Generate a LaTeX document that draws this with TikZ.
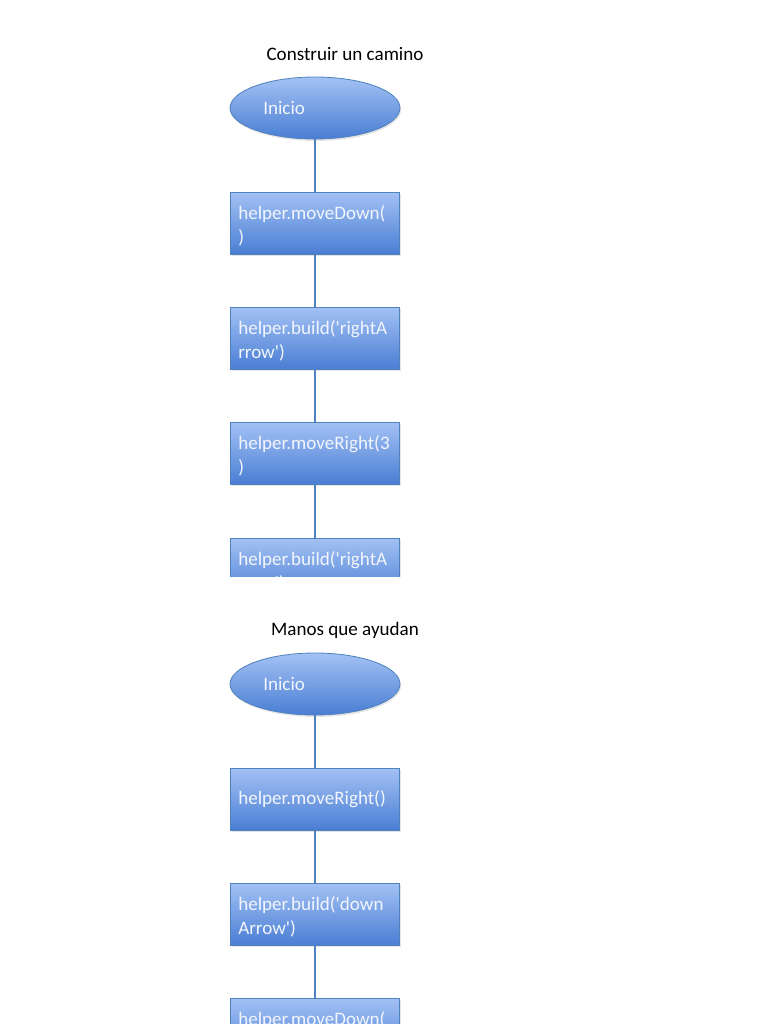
\documentclass[tikz,border=0pt]{standalone}
\usepackage{fontspec}
\setmainfont{Carlito}
\usetikzlibrary{shapes.geometric,shadows}
\definecolor{topblue}{HTML}{A3C1F4}
\definecolor{botblue}{HTML}{4A7ED4}
\definecolor{edgeblue}{HTML}{4F81BD}
\definecolor{txt}{HTML}{F2F6FC}
\newcommand{\sq}{\textquotesingle}
\tikzset{
  x=0.75pt, y=-0.75pt,
  softshadow/.style={drop shadow={opacity=0.2, shadow xshift=0.8pt, shadow yshift=-1.5pt}},
  flowbox/.style={rectangle, draw=edgeblue, line width=0.6pt, top color=topblue, bottom color=botblue,
    minimum width=126.75pt, minimum height=46.5pt, inner sep=0pt, softshadow},
  startnode/.style={ellipse, draw=edgeblue, line width=0.6pt, top color=topblue, bottom color=botblue,
    minimum width=127.5pt, minimum height=46.5pt, inner sep=0pt, softshadow},
  boxtext/.style={anchor=north west, text=txt, font=\fontsize{14.3}{18}\selectfont, align=left, inner sep=0pt},
  titletext/.style={font=\fontsize{14.3}{17}\selectfont, text=black},
  link/.style={draw=edgeblue, line width=1.5pt},
}
\begin{document}
\begin{tikzpicture}
\useasboundingbox (0,0) rectangle (768,1024);
\fill[white] (0,0) rectangle (768,1024);
% ---------- first diagram ----------
\node[titletext] (t1) at (345,54.5) {Construir un camino};
\begin{scope}
\clip (0,0) rectangle (768,576);
\node[startnode] (s1) at (315,108) {};
\node[flowbox] (a1) at (315,223) {};
\node[flowbox] (a2) at (315,338) {};
\node[flowbox] (a3) at (315,453) {};
\node[flowbox] (a4) at (315,569) {};
\draw[link] (s1.south) -- (a1.north);
\draw[link] (a1.south) -- (a2.north);
\draw[link] (a2.south) -- (a3.north);
\draw[link] (a3.south) -- (a4.north);
\node[boxtext, anchor=west] (s1t) at (263,108) {Inicio};
\node[boxtext] (a1t) at (238,205) {helper.moveDown(\\)};
\node[boxtext] (a2t) at (238,320) {helper.build(\sq rightA\\rrow\sq)};
\node[boxtext] (a3t) at (238,435) {helper.moveRight(3\\)};
\node[boxtext] (a4t) at (238,551) {helper.build(\sq rightA\\rrow\sq)};
\end{scope}
% ---------- second diagram ----------
\node[titletext] (t2) at (345,630.5) {Manos que ayudan};
\begin{scope}
\clip (0,0) rectangle (768,1024);
\node[startnode] (s2) at (315,684) {};
\node[flowbox] (b1) at (315,799) {};
\node[flowbox] (b2) at (315,914) {};
\node[flowbox] (b3) at (315,1029) {};
\draw[link] (s2.south) -- (b1.north);
\draw[link] (b1.south) -- (b2.north);
\draw[link] (b2.south) -- (b3.north);
\node[boxtext, anchor=west] (s2t) at (263,684) {Inicio};
\node[boxtext, anchor=west] (b1t) at (238,799) {helper.moveRight()};
\node[boxtext] (b2t) at (238,896) {helper.build(\sq down\\Arrow\sq)};
\node[boxtext] (b3t) at (238,1011) {helper.moveDown(\\)};
\end{scope}
\end{tikzpicture}
\end{document}
